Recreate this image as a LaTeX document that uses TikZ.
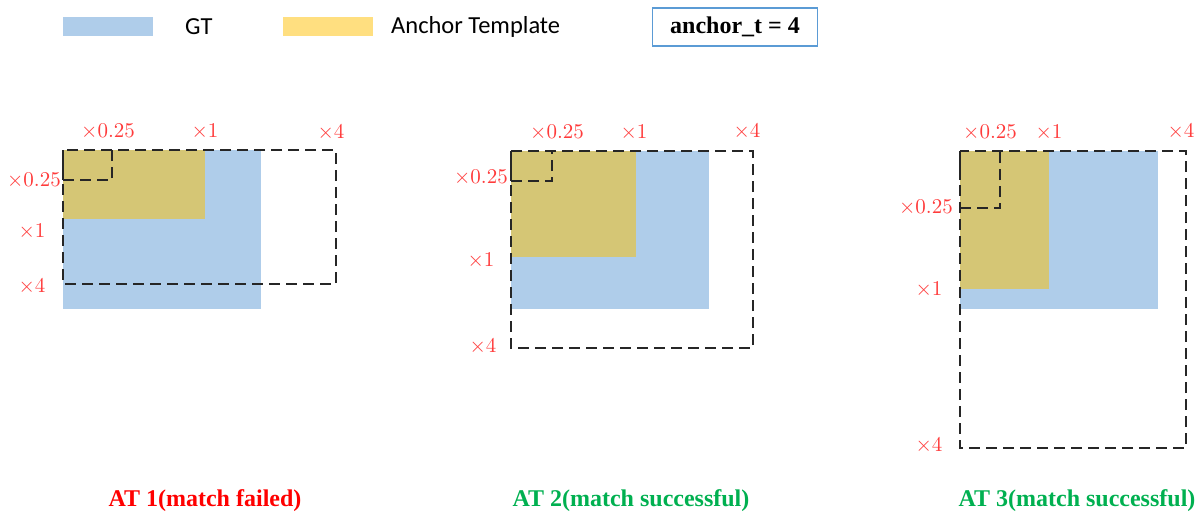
\documentclass[tikz,border=0pt]{standalone}
\usepackage{fontspec}
\setmainfont{Latin Modern Roman}
\newfontfamily\lmten{lmroman10-regular.otf}
\newfontfamily\legfont{Carlito}
\newfontfamily\timesfont{Liberation Serif}
\definecolor{gtblue}{HTML}{AFCDEA}
\definecolor{atyellow}{HTML}{FFDF80}
\definecolor{overlap}{HTML}{D5C675}
\definecolor{lblred}{HTML}{FF3B3B}
\definecolor{okgreen}{HTML}{00B050}
\definecolor{boxblue}{HTML}{5B9BD5}
\begin{document}
\begin{tikzpicture}[x=1pt,y=-1pt,
  lbl/.style={text=lblred,font=\lmten\fontsize{21}{21}\selectfont,inner sep=0pt},
  dbox/.style={draw=black!85,line width=2.2pt,dash pattern=on 11pt off 6pt},
  title/.style={font=\timesfont\bfseries\fontsize{24}{24}\selectfont,inner sep=0pt,anchor=base},
  legtext/.style={font=\legfont\fontsize{24.5}{24.5}\selectfont,anchor=west,inner sep=0pt}]
\useasboundingbox (0,0) rectangle (1198,512);
% legend
\fill[gtblue] (63,17) rectangle (153,36);
\node[legtext] (gt) at (185,27) {GT};
\fill[atyellow] (283,17) rectangle (373,36);
\node[legtext] (at) at (391,27) {Anchor Template};
\node[draw=boxblue,line width=1.5pt,minimum width=165pt,minimum height=38pt,inner sep=0pt,
  font=\timesfont\bfseries\fontsize{24}{24}\selectfont] (anc) at (735,27) {anchor\_t = 4};
% panel 1
\fill[gtblue] (63,150) rectangle (261,309);
\fill[overlap] (63,150) rectangle (205,219);
\draw[dbox] (63,150) rectangle (336,284);
\draw[dbox] (63,180) -| (112,150);
\draw[black!85,line width=2.2pt] (63,150) -- (63,180);
\node[lbl] (a1t1) at (108,131) {×0.25};
\node[lbl] (a1t2) at (205,131) {×1};
\node[lbl] (a1t3) at (331,131) {×4};
\node[lbl,anchor=east] (a1l1) at (61,180) {×0.25};
\node[lbl] (a1l2) at (32,230) {×1};
\node[lbl] (a1l3) at (32,285) {×4};
\node[title,text=red] (t1) at (205,506) {AT 1(match failed)};
% panel 2
\fill[gtblue] (511,151) rectangle (709,309);
\fill[overlap] (511,151) rectangle (636,257);
\draw[dbox] (511,151) rectangle (753,348);
\draw[dbox] (511,181) -| (552,151);
\draw[black!85,line width=2.2pt] (511,151) -- (511,181);
\node[lbl] (a2t1) at (557,132) {×0.25};
\node[lbl] (a2t2) at (634,132) {×1};
\node[lbl] (a2t3) at (747,130) {×4};
\node[lbl,anchor=east] (a2l1) at (508,177) {×0.25};
\node[lbl] (a2l2) at (481,259) {×1};
\node[lbl] (a2l3) at (483,345) {×4};
\node[title,text=okgreen] (t2) at (631,506) {AT 2(match successful)};
% panel 3
\fill[gtblue] (960,151) rectangle (1158,309);
\fill[overlap] (960,151) rectangle (1049,289);
\draw[dbox] (960,151) rectangle (1186,448);
\draw[dbox] (960,208) -| (1000,151);
\draw[black!85,line width=2.2pt] (960,151) -- (960,180);
\node[lbl] (a3t1) at (990,132) {×0.25};
\node[lbl] (a3t2) at (1049,132) {×1};
\node[lbl] (a3t3) at (1181,130) {×4};
\node[lbl,anchor=east] (a3l1) at (953,207) {×0.25};
\node[lbl] (a3l2) at (929,288) {×1};
\node[lbl] (a3l3) at (929,444) {×4};
\node[title,text=okgreen] (t3) at (1077,506) {AT 3(match successful)};
\end{tikzpicture}
\end{document}
